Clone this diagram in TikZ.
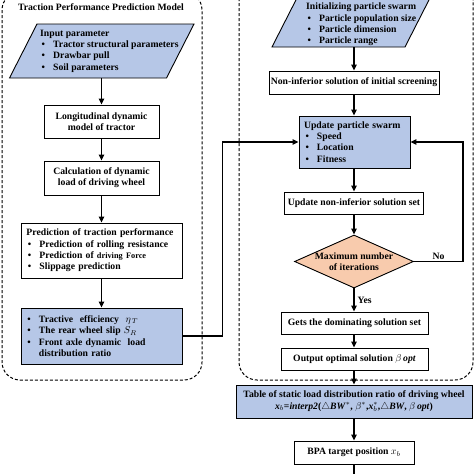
\documentclass[tikz,border=0pt]{standalone}
\usepackage{fontspec}
\setmainfont{Liberation Serif}
\usetikzlibrary{arrows.meta,shapes.geometric}
\definecolor{lblue}{RGB}{182,199,231}
\definecolor{peach}{RGB}{248,203,173}
\newcommand{\bul}[1]{\hspace*{1.5pt}\makebox[11.5pt][l]{\textbullet}#1}
\begin{document}
\begin{tikzpicture}[x=1pt,y=-1pt,
  font=\fontsize{9.7}{11.3}\selectfont\bfseries,
  box/.style={draw, line width=0.9pt, inner sep=0pt, align=center},
  lbox/.style={draw, line width=0.9pt, inner ysep=0pt, align=left},
  parashape/.style={draw, line width=0.9pt, fill=lblue},
  hold/.style={inner sep=0pt, outer sep=0pt},
  arr/.style={line width=1.3pt, -{Triangle[length=6pt,width=5.5pt]}},
  frame/.style={line width=1pt, dash pattern=on 3pt off 2pt, rounded corners=18pt},
  txt/.style={inner sep=0pt, align=left, anchor=west}]
\useasboundingbox (0,0) rectangle (474,474);
\clip (0,0) rectangle (474,474);

% frames
\draw[frame] (2,-8) rectangle (202,380);
\draw[frame] (239,-25) rectangle (473,380);

% left column
\node[inner sep=0pt] (ttl) at (101,7) {Traction Performance Prediction Model};
\draw[parashape] (37,24) -- (194,24) -- (166.5,78) -- (9.5,78) -- cycle;
\node[hold, minimum width=157, minimum height=54] (inp) at (101.5,51) {};
\node[txt] (inpT) at (40,51) {Input parameter\\ \bul{Tractor structural parameters}\\ \bul{Drawbar pull}\\ \bul{Soil parameters}};
\node[box, minimum width=115, minimum height=33] (lon) at (101.5,121.5) {Longitudinal dynamic\\model of tractor};
\node[box, minimum width=115, minimum height=34] (calc) at (101.5,178) {Calculation of dynamic\\load of driving wheel};
\node[lbox, minimum height=55, text width=150pt, inner xsep=5.5pt] (pred) at (101.5,250.5)
  {Prediction of traction performance\\ \bul{Prediction of rolling resistance}\\ \bul{Prediction of {\fontsize{8.3}{11.3}\selectfont driving Force}}\\ \bul{Slippage prediction}};
\node[lbox, fill=lblue, minimum height=56, text width=151pt, inner xsep=5pt] (out) at (101.5,336)
  {\bul{Tractive\ \ efficiency\ \ $\eta_{\,T}$}\\ \bul{The rear wheel slip $S_R$}\\ \bul{Front axle dynamic\ \ load}\\ \hspace*{13pt}distribution ratio};

% right column
\draw[parashape] (299,-6) -- (432,-6) -- (405,47) -- (272,47) -- cycle;
\node[hold, minimum width=133, minimum height=53] (init) at (352,20.5) {};
\node[txt] (initT) at (306,24.5) {Initializing particle swarm\\ \bul{Particle population size}\\ \bul{Particle dimension}\\ \bul{Particle range}};
\node[box, minimum width=170, minimum height=23] (nonin) at (354,82.5) {Non-inferior solution of initial screening};
\node[lbox, fill=lblue, minimum height=52, text width=101pt, inner xsep=5pt] (upd) at (354.5,142)
  {Update particle swarm\\ \bul{Speed}\\ \bul{Location}\\ \bul{Fitness}};
\node[box, minimum width=139, minimum height=22] (updn) at (354,203) {Update non-inferior solution set};
\node[draw, line width=0.9pt, fill=peach, diamond, shape aspect=2.4, inner xsep=-3pt, inner ysep=-2pt,
  minimum width=119, minimum height=53, align=center] (dia) at (354,261.5) {Maximum number\\of iterations};
\node[box, minimum width=147, minimum height=22] (gets) at (354.5,323) {Gets the dominating solution set};
\node[box, minimum width=147, minimum height=22] (outp) at (354.5,359) {Output optimal solution $\beta$\,\textit{opt}};
\node[box, fill=lblue, minimum width=236, minimum height=33] (tab) at (354,401.5)
  {Table of static load distribution ratio of driving wheel\\
   \textit{x}$_b$=\textit{interp2}($\triangle$\textit{BW}$^{*}$, $\beta^{*}$,\textit{x}$_b^{*}$,$\triangle$\textit{BW}, $\beta$\,\textit{opt})};
\node[box, minimum width=120, minimum height=23] (bpa) at (354,452.5) {BPA target position $x_b$};
\coordinate (endp) at (354,482);

% connectors left
\draw[arr] (inp.south) -- (lon.north);
\draw[arr] (lon.south) -- (calc.north);
\draw[arr] (calc.south) -- (pred.north);
\draw[arr] (pred.south) -- (out.north);
\draw[arr] (out.east) -- ++(40,0) |- (upd.west);

% connectors right
\draw[arr] (init.south -| nonin.north) -- (nonin.north);
\draw[arr] (nonin.south) -- (upd.north -| nonin.south);
\draw[arr] (upd.south -| updn.north) -- (updn.north);
\draw[arr] (updn.south) -- (dia.north);
\draw[arr] (dia.east) -- node[above, inner sep=1.5pt] (no) {No} ++(49,0) |- (upd.east);
\draw[arr] (dia.south) -- node[right, inner sep=3pt] (yes) {Yes} (gets.north -| dia.south);
\draw[arr] (gets.south -| dia.south) -- (outp.north -| dia.south);
\draw[arr] (outp.south -| tab.north) -- (tab.north);
\draw[arr] (tab.south) -- (bpa.north);
\draw[arr] (bpa.south) -- (endp);
\end{tikzpicture}
\end{document}
